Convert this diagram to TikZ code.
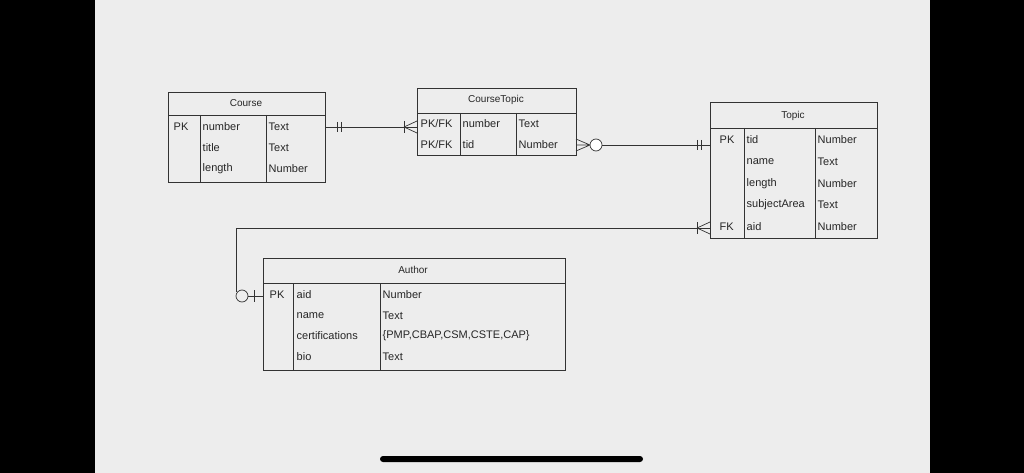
\documentclass[tikz,border=0pt]{standalone}
\usepackage{fontspec}
\setmainfont{Liberation Sans}
\begin{document}
\begin{tikzpicture}[x=1pt,y=-1pt,
  t/.style={anchor=west,font=\fontsize{11}{12}\selectfont,text=black!85,inner sep=1.5pt},
  h/.style={font=\fontsize{10}{11}\selectfont,text=black!85},
  ln/.style={line width=0.7pt,draw=black!80}]
\useasboundingbox (0,0) rectangle (1024,473);
\fill[black] (0,0) rectangle (1024,473);
\fill[gray!14] (95,0) rectangle (930,473);
\fill[black,rounded corners=3pt] (380,456) rectangle (643,462);
% Course
\draw[ln] (168,92) rectangle (325,182);
\draw[ln] (168,115) -- (325,115) (200,115) -- (200,182) (266,115) -- (266,182);
\node[h] (course) at (246,103) {Course};
\node[t] at (172,127) {PK};
\foreach \y/\a/\b in {127/number/Text,148/title/Text,169/length/Number}{
  \node[t] at (201,\y) {\a}; \node[t] at (267,\y) {\b};}
% CourseTopic
\draw[ln] (417,88) rectangle (576,155);
\draw[ln] (417,113) -- (576,113) (460,113) -- (460,155) (516,113) -- (516,155);
\node[h] (ct) at (496,100) {CourseTopic};
\foreach \y/\a/\b in {124/number/Text,145/tid/Number}{
  \node[t] at (419,\y) {PK/FK}; \node[t] at (461,\y) {\a}; \node[t] at (517,\y) {\b};}
% Topic
\draw[ln] (710,102) rectangle (877,238);
\draw[ln] (710,128) -- (877,128) (744,128) -- (744,238) (815,128) -- (815,238);
\node[h] (topic) at (793,116) {Topic};
\node[t] at (718,140) {PK};
\node[t] at (718,227) {FK};
\foreach \y/\a/\b in {140/tid/Number,162/name/Text,184/length/Number,205/subjectArea/Text,227/aid/Number}{
  \node[t] at (745,\y) {\a}; \node[t] at (816,\y) {\b};}
% Author
\draw[ln] (263,258) rectangle (565,370);
\draw[ln] (263,283) -- (565,283) (293,283) -- (293,370) (380,283) -- (380,370);
\node[h] (author) at (413,270) {Author};
\node[t] at (268,295) {PK};
\foreach \y/\a/\b in {295/aid/Number,316/name/Text,336/certifications/{\{PMP,CBAP,CSM,CSTE,CAP\}},357/bio/Text}{
  \node[t] at (295,\y) {\a}; \node[t] at (381,\y) {\b};}
% connector end points
\coordinate (c1) at (325,127); \coordinate (c2) at (417,127);
\coordinate (c3) at (576,145); \coordinate (c4) at (710,145);
\coordinate (c5) at (710,228); \coordinate (c6) at (263,296);
% Course -- CourseTopic
\draw[ln] (c1) -- (c2);
\draw[ln] ([xshift=12]c1) ++(0,-5) -- ++(0,10) ([xshift=16]c1) ++(0,-5) -- ++(0,10);
\draw[ln] ([xshift=-13]c2) ++(0,-6) -- ++(0,12);
\draw[ln] ([xshift=-13]c2) -- ([yshift=-6]c2) ([xshift=-13]c2) -- ([yshift=6]c2);
% CourseTopic -- Topic
\draw[ln] ([xshift=26]c3) -- (c4);
\draw[ln,fill=white] ([xshift=20]c3) circle (6);
\draw[ln] ([xshift=14]c3) -- ([yshift=-6]c3) ([xshift=14]c3) -- ([yshift=6]c3) ([xshift=14]c3) -- (c3);
\draw[ln] ([xshift=-13]c4) ++(0,-5) -- ++(0,10) ([xshift=-9]c4) ++(0,-5) -- ++(0,10);
% Topic -- Author
\draw[ln] (c5) -- (236,228) -- (236,292);
\draw[ln] ([xshift=-21]c6) circle (6);
\draw[ln] ([xshift=-15]c6) -- (c6);
\draw[ln] ([xshift=-9]c6) ++(0,-6) -- ++(0,12);
\draw[ln] ([xshift=-13]c5) ++(0,-6) -- ++(0,12);
\draw[ln] ([xshift=-13]c5) -- ([yshift=-6]c5) ([xshift=-13]c5) -- ([yshift=6]c5);
\end{tikzpicture}
\end{document}
